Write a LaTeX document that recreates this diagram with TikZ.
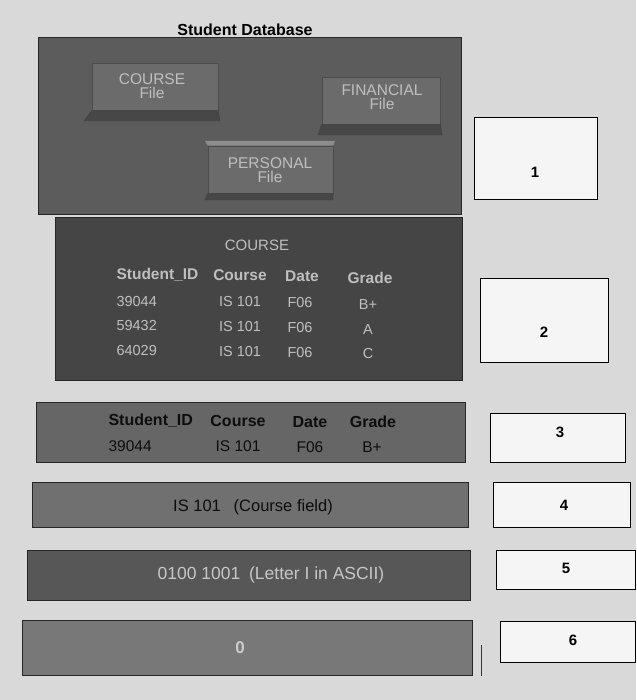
\documentclass[tikz,border=0pt]{standalone}
\usepackage{fontspec}
\setmainfont{Liberation Sans}
\begin{document}
\begin{tikzpicture}[x=1pt,y=-1pt,
  bigbox/.style={draw=black!85,line width=1pt,inner sep=0pt,anchor=center},
  numbox/.style={draw=black,line width=1pt,fill=white!96!black,inner sep=0pt},
  filebox/.style={draw=black!70,line width=0.6pt,fill=black!58,inner sep=0pt},
  lip/.style={fill=black!72,draw=black!75,line width=0.4pt},
  lt/.style={text=black!25,font=\fontsize{14.5}{14.5}\selectfont},
  ltb/.style={text=black!25,font=\bfseries\fontsize{15.5}{15.5}\selectfont},
  dk/.style={text=black!95,font=\fontsize{15.5}{15.5}\selectfont},
  dkb/.style={text=black!95,font=\bfseries\fontsize{16}{16}\selectfont},
  num/.style={text=black,font=\bfseries\fontsize{15}{15}\selectfont},
  filetxt/.style={text=black!25,font=\fontsize{15.5}{14}\selectfont,align=center,inner sep=0pt}
]
\useasboundingbox (0,0) rectangle (636,700);
\fill[black!15] (0,0) rectangle (636,700);

% title
\node[font=\bfseries\fontsize{16}{16}\selectfont] (title) at (245,30) {Student Database};

% box 1: database
\node[bigbox,fill=black!64,minimum width=423pt,minimum height=177pt] (b1) at (249.5,126.5) {};
% course file
\node[filebox,minimum width=126pt,minimum height=47pt] (cf) at (155,87) {};
\fill[lip] (cf.south west) -- (cf.south east) -- (220,121) -- (84,121) -- cycle;
\node[filetxt] (cft) at (152,86) {COURSE\\File};
% financial file
\node[filebox,minimum width=118pt,minimum height=47pt] (ff) at (381,100.5) {};
\fill[lip] (ff.south west) -- (ff.south east) -- (442,135) -- (318,135) -- cycle;
\node[filetxt] (fft) at (382,97) {FINANCIAL\\File};
% personal file
\node[filebox,minimum width=125pt,minimum height=47pt] (pf) at (270.5,169.5) {};
\fill[black!45] (205,141) -- (335,141) -- (pf.north east) -- (pf.north west) -- cycle;
\fill[lip] (pf.south west) -- (pf.south east) -- (333,200) -- (205,200) -- cycle;
\node[filetxt] (pft) at (270,170) {PERSONAL\\File};

\node[numbox,minimum width=123pt,minimum height=82pt] (l1) at (535.5,159) {};
\node[num] (n1) at (535,172) {1};

% box 2: course table
\node[bigbox,fill=black!73,minimum width=407pt,minimum height=162pt] (b2) at (258.5,299) {};
\node[lt,font=\fontsize{15}{15}\selectfont] (t2) at (257,245) {COURSE};
\node[ltb,anchor=west] (h21) at (113,275) {Student\_ID};
\node[ltb] (h22) at (240,275) {Course};
\node[ltb] (h23) at (302,276) {Date};
\node[ltb] (h24) at (370,278) {Grade};
\node[lt,anchor=west] (r11) at (113,302) {39044};
\node[lt] (r12) at (240,302) {IS 101};
\node[lt] (r13) at (300,303) {F06};
\node[lt] (r14) at (368,305) {B+};
\node[lt,anchor=west] (r21) at (113,326) {59432};
\node[lt] (r22) at (240,327) {IS 101};
\node[lt] (r23) at (300,328) {F06};
\node[lt] (r24) at (368,330) {A};
\node[lt,anchor=west] (r31) at (113,351) {64029};
\node[lt] (r32) at (240,352) {IS 101};
\node[lt] (r33) at (300,353) {F06};
\node[lt] (r34) at (368,354) {C};
\node[numbox,minimum width=128pt,minimum height=84pt] (l2) at (544,320) {};
\node[num] (n2) at (544,332) {2};

% box 3: record
\node[bigbox,fill=black!60,minimum width=429pt,minimum height=60pt] (b3) at (250.5,432) {};
\node[dkb,anchor=west] (h31) at (105,421) {Student\_ID};
\node[dkb] (h32) at (238,421) {Course};
\node[dkb] (h33) at (310,422) {Date};
\node[dkb] (h34) at (373,422) {Grade};
\node[dk,anchor=west] (d31) at (105,446) {39044};
\node[dk] (d32) at (238,446) {IS 101};
\node[dk] (d33) at (310,447) {F06};
\node[dk] (d34) at (372,447) {B+};
\node[numbox,minimum width=135pt,minimum height=49pt] (l3) at (557.5,437.5) {};
\node[num] (n3) at (560,432) {3};

% box 4: field
\node[bigbox,fill=black!56,minimum width=436pt,minimum height=45pt] (b4) at (250,504.5) {};
\node[dk,font=\fontsize{16.5}{16.5}\selectfont] (t4) at (253,507) {IS 101\enspace\ (Course field)};
\node[numbox,minimum width=137pt,minimum height=45pt] (l4) at (561.5,504.5) {};
\node[num] (n4) at (564,505) {4};

% box 5: byte
\node[bigbox,fill=black!66,minimum width=443pt,minimum height=50pt] (b5) at (248.5,575) {};
\node[lt,text=black!22,font=\fontsize{17.5}{17.5}\selectfont] (t5) at (271,575) {0100 1001\enspace (Letter I in ASCII)};
\node[numbox,minimum width=139pt,minimum height=39pt] (l5) at (565.5,569.5) {};
\node[num] (n5) at (566,568) {5};

% box 6: bit
\node[bigbox,fill=black!53,minimum width=450pt,minimum height=55pt] (b6) at (247,647.5) {};
\node[lt,text=black!20,font=\bfseries\fontsize{17}{17}\selectfont] (t6) at (240,648) {0};
\node[numbox,minimum width=135pt,minimum height=41pt] (l6) at (567.5,641.5) {};
\node[num] (n6) at (573,640) {6};

% small vertical tick
\coordinate (tka) at (481,645);
\coordinate (tkb) at (481,676);
\draw[line width=1pt,black!80] (tka) -- (tkb);
\end{tikzpicture}
\end{document}
